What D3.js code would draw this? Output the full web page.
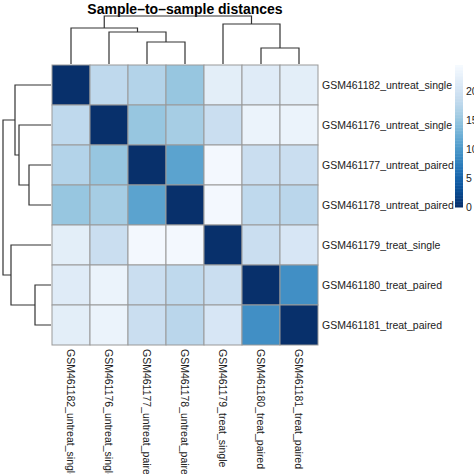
<!DOCTYPE html><html><head><meta charset="utf-8">
<script src="https://cdn.jsdelivr.net/npm/d3@7"></script>
<style>body{margin:0;background:#fff}text{font-family:"Liberation Sans",Arial,sans-serif}</style></head><body>
<svg id="c" width="474" height="474"></svg>
<script>
const samples=["GSM461182_untreat_single","GSM461176_untreat_single","GSM461177_untreat_paired","GSM461178_untreat_paired","GSM461179_treat_single","GSM461180_treat_paired","GSM461181_treat_paired"];
const distances=[
[0,18,17,15,22,21.5,22],
[18,0,15,16,19,23,23],
[17,15,0,11,24,19,19],
[15,16,11,0,24,18,17.5],
[22,19,24,24,0,19,20.5],
[21.5,23,19,18,19,0,9],
[22,23,19,17.5,20.5,9,0]];
const merges=[[2,3,11],[1,"n0",16],[0,"n1",18],[5,6,8],[4,"n3",20],["n2","n4",24]];
const legendTicks=[0,5,10,15,20];
const maxVal=24.5;

const svg=d3.select("#c");
const x0=52,y0=65,cw=38,ch=40,n=samples.length;
const xs=d3.scaleBand().domain(d3.range(n)).range([x0,x0+cw*n]);
const ys=d3.scaleBand().domain(d3.range(n)).range([y0,y0+ch*n]);
const blues=["#08306B","#08519C","#2171B5","#4292C6","#6BAED6","#9ECAE1","#C6DBEF","#DEEBF7","#F7FBFF"];
const col=d3.scaleLinear().domain([0,maxVal]).range([0,1]);
const interp=d3.interpolateRgbBasis(blues);
const color=v=>interp(col(v));

svg.append("text").attr("x",185).attr("y",14).attr("text-anchor","middle").attr("font-weight","bold").attr("font-size",14).text("Sample\u2013to\u2013sample distances");

const g=svg.append("g");
distances.forEach((row,i)=>row.forEach((v,j)=>{
 g.append("rect").attr("x",xs(j)).attr("y",ys(i)).attr("width",cw).attr("height",ch).attr("fill",color(v)).attr("stroke","#999").attr("stroke-width",1);
}));
samples.forEach((s,i)=>{
 svg.append("text").attr("x",x0+cw*n+4).attr("y",ys(i)+ch/2+4).attr("font-size",10.5).attr("fill","#222").text(s);
 svg.append("text").attr("transform",`translate(${xs(i)+cw/2-4},${y0+ch*n+4}) rotate(90)`).attr("font-size",10.5).attr("fill","#222").text(s);
});

const hTop=d3.scaleLinear().domain([0,24]).range([y0-1,16]);
const hLeft=d3.scaleLinear().domain([0,24]).range([x0-1,3]);
const topG=svg.append("g").attr("fill","none").attr("stroke","#333").attr("stroke-width",1.2);
const leftG=svg.append("g").attr("fill","none").attr("stroke","#333").attr("stroke-width",1.2);
const tn={},ln={};
const tp=nd=>typeof nd==="number"?[xs(nd)+cw/2,0]:tn[nd];
const lp=nd=>typeof nd==="number"?[ys(nd)+ch/2,0]:ln[nd];
merges.forEach((m,k)=>{
 const h=m[2];
 const a=tp(m[0]),b=tp(m[1]);
 topG.append("path").attr("d",`M${a[0]},${hTop(a[1])}V${hTop(h)}H${b[0]}V${hTop(b[1])}`);
 tn["n"+k]=[(a[0]+b[0])/2,h];
 const c=lp(m[0]),d=lp(m[1]);
 leftG.append("path").attr("d",`M${hLeft(c[1])},${c[0]}H${hLeft(h)}V${d[0]}H${hLeft(d[1])}`);
 ln["n"+k]=[(c[0]+d[0])/2,h];
});

const ly=d3.scaleLinear().domain([0,maxVal]).range([207,65]);
const lg=svg.append("g");
d3.range(0,maxVal,0.25).forEach(v=>{
 lg.append("rect").attr("x",455).attr("y",ly(v+0.25)).attr("width",8).attr("height",ly(v)-ly(v+0.25)+0.5).attr("fill",color(v));
});
legendTicks.forEach(t=>{
 lg.append("text").attr("x",466).attr("y",ly(t)+4).attr("font-size",10.5).attr("fill","#222").text(t);
});
</script></body></html>
